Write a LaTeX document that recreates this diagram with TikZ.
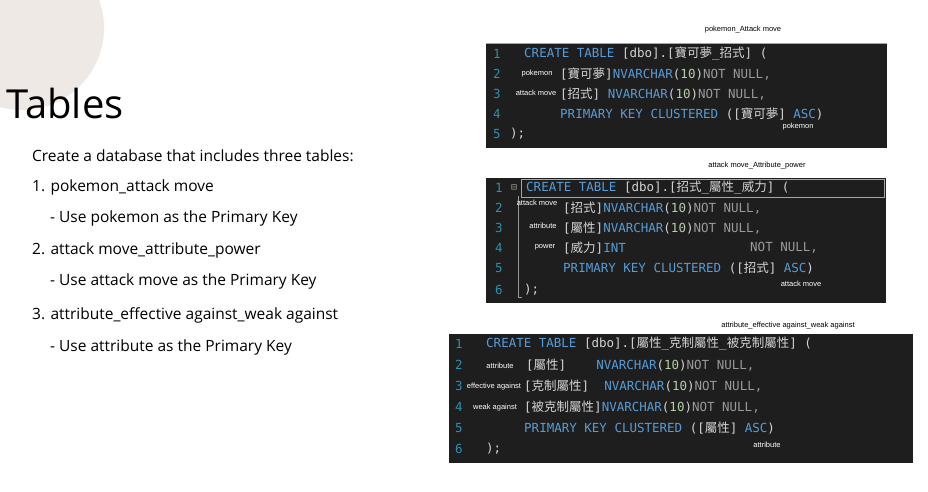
\documentclass[tikz,border=0pt]{standalone}
\usepackage{fontspec}
\setmainfont{Open Sans}
\setmonofont{DejaVu Sans Mono}
\newfontfamily\cjkf{Noto Sans CJK TC}
\newfontfamily\lblf{Liberation Sans}
\definecolor{codebg}{HTML}{1E1E1E}
\definecolor{kwc}{HTML}{569CD6}
\definecolor{plc}{HTML}{D4D4D4}
\definecolor{numc}{HTML}{B5CEA8}
\definecolor{dimc}{HTML}{9A9A9A}
\definecolor{lnc}{HTML}{2B91AF}
\definecolor{circ}{HTML}{EFE9E6}
\newcommand{\kw}[1]{\textcolor{kwc}{#1}}
\newcommand{\pl}[1]{\textcolor{plc}{#1}}
\newcommand{\nm}[1]{\textcolor{numc}{#1}}
\newcommand{\dm}[1]{\textcolor{dimc}{#1}}
\newcommand{\cj}[1]{{\cjkf\fontsize{12.5}{14}\selectfont #1}}
\newcommand{\tail}{\pl{ (}\nm{10}\pl{)}\dm{ NOT NULL,}}
\tikzset{
  x=1pt,y=-1pt,
  code/.style={anchor=west,inner sep=0pt,font=\ttfamily\fontsize{12.5}{14}\selectfont,text=plc},
  lnum/.style={anchor=west,inner sep=0pt,font=\ttfamily\fontsize{12.5}{14}\selectfont,text=lnc},
  lbl/.style={inner sep=0pt,font=\lblf\fontsize{7.5}{9}\selectfont,text=white},
  ttl/.style={inner sep=0pt,font=\lblf\fontsize{7.5}{9}\selectfont,text=black},
  body/.style={anchor=west,inner sep=0pt,font=\fontsize{15.5}{18}\selectfont},
  box/.style={fill=codebg,draw=none}
}
\begin{document}
\begin{tikzpicture}
\useasboundingbox (0,0) rectangle (928,491);
\fill[white] (0,0) rectangle (928,491);
\begin{scope}
\clip (0,0) rectangle (928,491);
\fill[circ] (22,28) circle (82);
\end{scope}
\node[anchor=west,inner sep=0pt,font=\fontsize{40}{44}\selectfont] (title) at (6,103) {Tables};
\node[body] (t0) at (32,156) {Create a database that includes three tables:};
\node[body] (t1) at (32,187) {1. pokemon\_attack move};
\node[body] (t2) at (50,218) {- Use pokemon as the Primary Key};
\node[body] (t3) at (32,250) {2. attack move\_attribute\_power};
\node[body] (t4) at (50,281) {- Use attack move as the Primary Key};
\node[body] (t5) at (32,315) {3. attribute\_effective against\_weak against};
\node[body] (t6) at (50,347) {- Use attribute as the Primary Key};

% box 1
\node[ttl] (h1) at (743,30) {pokemon\_Attack move};
\fill[box] (486,43) rectangle (887,148);
\draw[gray!70,line width=0.6pt] (486,43.5) -- (887,43.5);
\node[lnum] (a1) at (493,54) {1};
\node[lnum] (a2) at (493,74) {2};
\node[lnum] (a3) at (493,94) {3};
\node[lnum] (a4) at (493,114) {4};
\node[lnum] (a5) at (493,134) {5};
\node[code] (ac1) at (524,54) {\kw{CREATE TABLE} [dbo].[\cj{寶可夢}\_\cj{招式}] (};
\node[code] (ac2) at (560,74) {[\cj{寶可夢}]\kw{ NVARCHAR}\tail};
\node[code] (ac3) at (560,94) {[\cj{招式}]\ \kw{ NVARCHAR}\tail};
\node[code] (ac4) at (560,114) {\kw{PRIMARY KEY CLUSTERED} ([\cj{寶可夢}] \kw{ASC})};
\node[code] (ac5) at (510,134) {);};
\node[lbl] (al2) at (537,74) {pokemon};
\node[lbl] (al3) at (536,93) {attack move};
\node[lbl] (al4) at (798,127) {pokemon};

% box 2
\node[ttl] (h2) at (757,166) {attack move\_Attribute\_power};
\fill[box] (486,178) rectangle (886,303);
\draw[gray!70,line width=0.6pt] (521,179) rectangle (884,197);
\node[lnum] (b1) at (495,188) {1};
\node[lnum] (b2) at (495,208) {2};
\node[lnum] (b3) at (495,228) {3};
\node[lnum] (b4) at (495,248) {4};
\node[lnum] (b5) at (495,268) {5};
\node[lnum] (b6) at (495,290) {6};
\node[code,text=dimc] (bf) at (511,188) {\fontsize{10}{12}\selectfont ⊟};
\draw[dimc,line width=0.6pt] (518,196) -- (518,297) -- (522,297);
\node[code] (bc1) at (526,188) {\kw{CREATE TABLE} [dbo].[\cj{招式}\_\cj{屬性}\_\cj{威力}] (};
\node[code] (bc2) at (563,208) {[\cj{招式}]\kw{ NVARCHAR}\tail};
\node[code] (bc3) at (563,228) {[\cj{屬性}]\kw{ NVARCHAR}\tail};
\node[code] (bc4) at (563,248) {[\cj{威力}]\kw{ INT}};
\node[code] (bc4b) at (750,248) {\dm{NOT NULL,}};
\node[code] (bc5) at (563,268) {\kw{PRIMARY KEY CLUSTERED} ([\cj{招式}] \kw{ASC})};
\node[code] (bc6) at (524,290) {);};
\node[lbl] (bl2) at (537,203) {attack move};
\node[lbl] (bl3) at (543,226) {attribute};
\node[lbl] (bl4) at (545,247) {power};
\node[lbl] (bl5) at (801,284) {attack move};

% box 3
\node[ttl] (h3) at (788,326) {attribute\_effective against\_weak against};
\fill[box] (449,334) rectangle (913,463);
\node[lnum] (c1) at (455,344) {1};
\node[lnum] (c2) at (455,365) {2};
\node[lnum] (c3) at (455,386) {3};
\node[lnum] (c4) at (455,407) {4};
\node[lnum] (c5) at (455,428) {5};
\node[lnum] (c6) at (455,449) {6};
\node[code] (cc1) at (486,344) {\kw{CREATE TABLE} [dbo].[\cj{屬性}\_\cj{克制屬性}\_\cj{被克制屬性}] (};
\node[code] (cc2) at (526,365) {[\cj{屬性}]\ \ \ \ \kw{NVARCHAR}\tail};
\node[code] (cc3) at (524,386) {[\cj{克制屬性}]\ \ \kw{NVARCHAR}\tail};
\node[code] (cc4) at (524,407) {[\cj{被克制屬性}]\kw{ NVARCHAR}\tail};
\node[code] (cc5) at (524,428) {\kw{PRIMARY KEY CLUSTERED} ([\cj{屬性}] \kw{ASC})};
\node[code] (cc6) at (486,449) {);};
\node[lbl] (cl2) at (500,366) {attribute};
\node[lbl] (cl3) at (494,387) {effective against};
\node[lbl] (cl4) at (495,408) {weak against};
\node[lbl] (cl5) at (767,445) {attribute};
\end{tikzpicture}
\end{document}
